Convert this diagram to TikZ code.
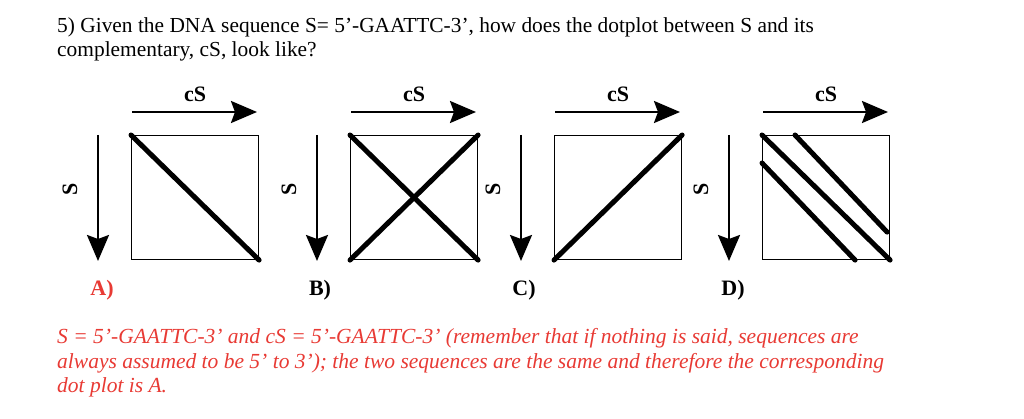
\documentclass[tikz,border=0pt]{standalone}
\usepackage{fontspec}
\setmainfont{Liberation Serif}
\usetikzlibrary{arrows.meta}
\definecolor{answerred}{RGB}{232,58,52}

\begin{document}
\begin{tikzpicture}[x=1pt,y=-1pt,
  plotbox/.style={draw,line width=1.1pt,minimum width=127pt,minimum height=124pt,inner sep=0pt,anchor=north west},
  seqarrow/.style={line width=2.6pt,-{Stealth[length=26pt,width=22pt,inset=4pt]}},
  hit/.style={line width=5pt,line cap=round},
  lbl/.style={font=\fontsize{22}{26}\selectfont\bfseries,inner sep=0pt},
  txt/.style={font=\fontsize{21.4}{24}\selectfont,anchor=base west,inner sep=0pt},
  anstxt/.style={txt,text=answerred,font=\fontsize{21.5}{24}\selectfont\itshape}]
\useasboundingbox (0,0) rectangle (1024,419);

% question
\node[txt] (question1) at (57,33) {5) Given the DNA sequence S= 5’-GAATTC-3’, how does the dotplot between S and its};
\node[txt] (question2) at (57,57) {complementary, cS, look like?};

% the four dot plots
\foreach \x/\n in {131/A,350/B,554/C,762/D}{
  \node[plotbox] (\n) at (\x,135) {};
  \coordinate (\n c0) at (\x+1,112);
  \coordinate (\n c1) at (\x+126,112);
  \coordinate (\n s0) at (\x-33,135);
  \coordinate (\n s1) at (\x-33,261);
  \draw[seqarrow] (\n c0) -- (\n c1);
  \draw[seqarrow] (\n s0) -- (\n s1);
  \node[lbl] (\n cs) at (\x+64,94) {cS};
  \node[lbl,rotate=90] (\n s) at (\x-61,189) {S};
}

% diagonals
\draw[hit] (A.north west) -- (A.south east);
\draw[hit] (B.north west) -- (B.south east);
\draw[hit] (B.south west) -- (B.north east);
\draw[hit] (C.south west) -- (C.north east);
\draw[hit] (D.north west) -- (D.south east);
\draw[hit] ([xshift=33pt]D.north west) -- ([xshift=-3pt,yshift=28pt]D.south east);
\draw[hit] ([yshift=-28pt]D.north west) -- ([xshift=-35pt]D.south east);

% answer choices
\node[lbl,text=answerred] (optA) at (102,290) {A)};
\node[lbl] (optB) at (320,290) {B)};
\node[lbl] (optC) at (524,290) {C)};
\node[lbl] (optD) at (733,290) {D)};

% answer
\node[anstxt] (answer1) at (57,343) {S = 5’-GAATTC-3’ and cS = 5’-GAATTC-3’ (remember that if nothing is said, sequences are};
\node[anstxt] (answer2) at (57,368) {always assumed to be 5’ to 3’); the two sequences are the same and therefore the corresponding};
\node[anstxt] (answer3) at (57,392) {dot plot is A.};
\end{tikzpicture}
\end{document}
